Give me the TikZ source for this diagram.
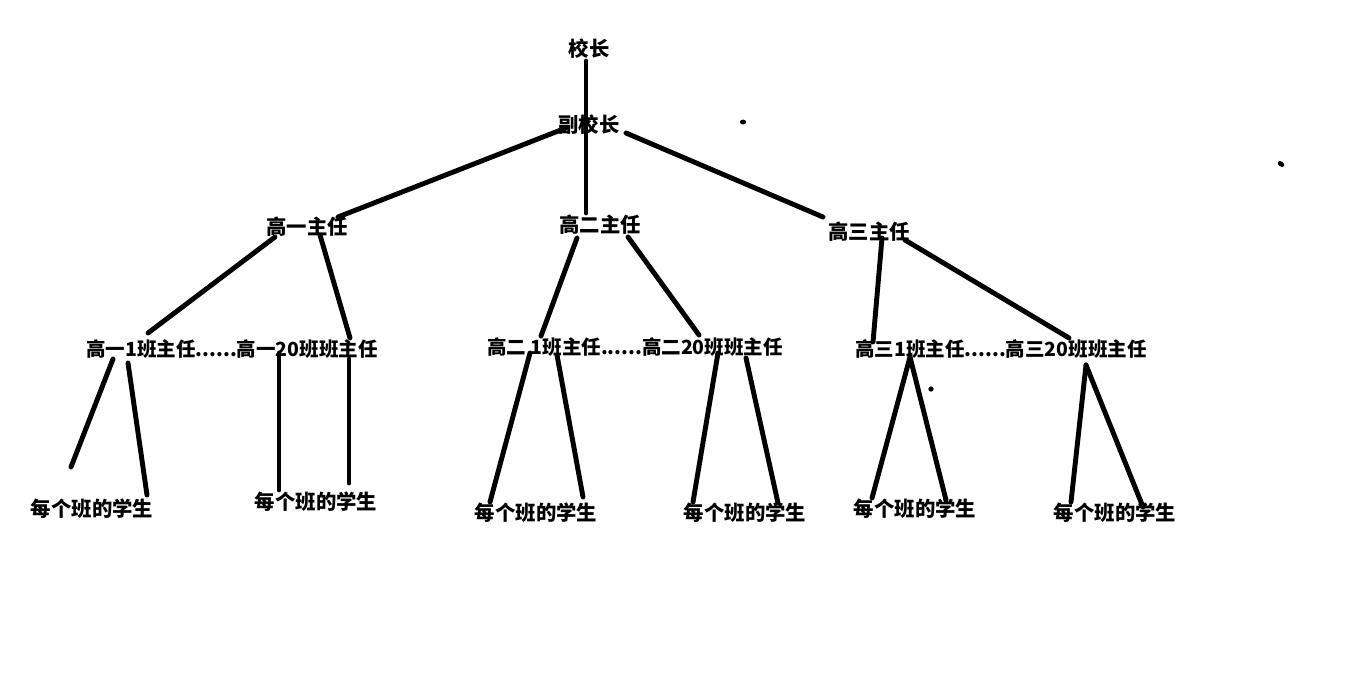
\documentclass[tikz,border=0pt]{standalone}
\usepackage{fontspec}
\newfontfamily\cjk{Noto Sans CJK SC}
\usepackage{tikz}

\begin{document}
\begin{tikzpicture}[
  x=0.02cm, y=-0.02cm,
  lbl/.style={font=\cjk\bfseries\fontsize{11.6}{13}\selectfont, inner sep=0pt},
  wide/.style={lbl, font=\cjk\bfseries\fontsize{11.1}{13}\selectfont},
  link/.style={line width=2.8pt, line cap=round, draw=black},
  spot/.style={fill=black}
]
  \useasboundingbox (0,0) rectangle (1358,683);

  % Head
  \node[lbl] (head) at (589,49) {校长};
  \node[lbl] (vice) at (589,125) {副校长};

  % Grade directors
  \node[lbl] (dirA) at (307,227) {高一主任};
  \node[lbl] (dirB) at (600,225) {高二主任};
  \node[lbl] (dirC) at (869,232) {高三主任};

  % Class teachers
  \node[wide] (clsA) at (232,349) {高一1班主任......高一20班班主任};
  \node[wide] (clsB) at (635,347) {高二 1班主任......高二20班班主任};
  \node[wide] (clsC) at (1001,349) {高三1班主任......高三20班班主任};

  % Students
  \node[lbl] (stuA1) at (92,509) {每个班的学生};
  \node[lbl] (stuA2) at (316,502) {每个班的学生};
  \node[lbl] (stuB1) at (536,513) {每个班的学生};
  \node[lbl] (stuB2) at (745,513) {每个班的学生};
  \node[lbl] (stuC1) at (915,509) {每个班的学生};
  \node[lbl] (stuC2) at (1115,513) {每个班的学生};

  % line ends
  \coordinate (head-s) at (586,61);
  \coordinate (dirB-n) at (586,213);
  \coordinate (vice-w) at (566,128);
  \coordinate (vice-e) at (626,133);
  \coordinate (dirA-n) at (338,217);
  \coordinate (dirC-n) at (823,217);
  \coordinate (dirA-sw) at (275,237);
  \coordinate (dirA-se) at (320,235);
  \coordinate (dirB-sw) at (577,238);
  \coordinate (dirB-se) at (628,237);
  \coordinate (dirC-sw) at (882,238);
  \coordinate (dirC-se) at (905,240);
  \coordinate (clsA-n1) at (148,333);
  \coordinate (clsA-n2) at (350,338);
  \coordinate (clsB-n1) at (541,336);
  \coordinate (clsB-n2) at (699,335);
  \coordinate (clsC-n1) at (873,342);
  \coordinate (clsC-n2) at (1069,338);
  \coordinate (clsA-s1) at (113,359);
  \coordinate (clsA-s2) at (128,363);
  \coordinate (clsA-s3) at (279,353);
  \coordinate (clsA-s4) at (349,359);
  \coordinate (clsB-s1) at (530,353);
  \coordinate (clsB-s2) at (557,355);
  \coordinate (clsB-s3) at (718,353);
  \coordinate (clsB-s4) at (746,358);
  \coordinate (clsC-s1) at (910,357);
  \coordinate (clsC-s2) at (1086,365);
  \coordinate (stuA1-a) at (71,467);
  \coordinate (stuA1-b) at (147,495);
  \coordinate (stuA2-a) at (279,490);
  \coordinate (stuA2-b) at (349,483);
  \coordinate (stuB1-a) at (490,502);
  \coordinate (stuB1-b) at (583,497);
  \coordinate (stuB2-a) at (693,502);
  \coordinate (stuB2-b) at (778,503);
  \coordinate (stuC1-a) at (872,498);
  \coordinate (stuC1-b) at (946,500);
  \coordinate (stuC2-a) at (1071,502);
  \coordinate (stuC2-b) at (1143,507);

  % Connectors
  \draw[link] (head-s) -- (dirB-n);
  \draw[link] (vice-w) -- (dirA-n);
  \draw[link] (vice-e) -- (dirC-n);
  \draw[link] (dirA-sw) -- (clsA-n1);
  \draw[link] (dirA-se) -- (clsA-n2);
  \draw[link] (dirB-sw) -- (clsB-n1);
  \draw[link] (dirB-se) -- (clsB-n2);
  \draw[link] (dirC-sw) -- (clsC-n1);
  \draw[link] (dirC-se) -- (clsC-n2);
  \draw[link] (clsA-s1) -- (stuA1-a);
  \draw[link] (clsA-s2) -- (stuA1-b);
  \draw[link] (clsA-s3) -- (stuA2-a);
  \draw[link] (clsA-s4) -- (stuA2-b);
  \draw[link] (clsB-s1) -- (stuB1-a);
  \draw[link] (clsB-s2) -- (stuB1-b);
  \draw[link] (clsB-s3) -- (stuB2-a);
  \draw[link] (clsB-s4) -- (stuB2-b);
  \draw[link] (clsC-s1) -- (stuC1-a);
  \draw[link] (clsC-s1) -- (stuC1-b);
  \draw[link] (clsC-s2) -- (stuC2-a);
  \draw[link] (clsC-s2) -- (stuC2-b);

  % stray dots
  \coordinate (dotA) at (743,122);
  \coordinate (dotB) at (1281,164);
  \coordinate (dotC) at (931,389);
  \fill[spot] (dotA) ellipse (1.8pt and 1.4pt);
  \fill[spot, rotate around={-35:(dotB)}] (dotB) ellipse (2.1pt and 1.4pt);
  \fill[spot] (dotC) circle (1.5pt);

\end{tikzpicture}
\end{document}
